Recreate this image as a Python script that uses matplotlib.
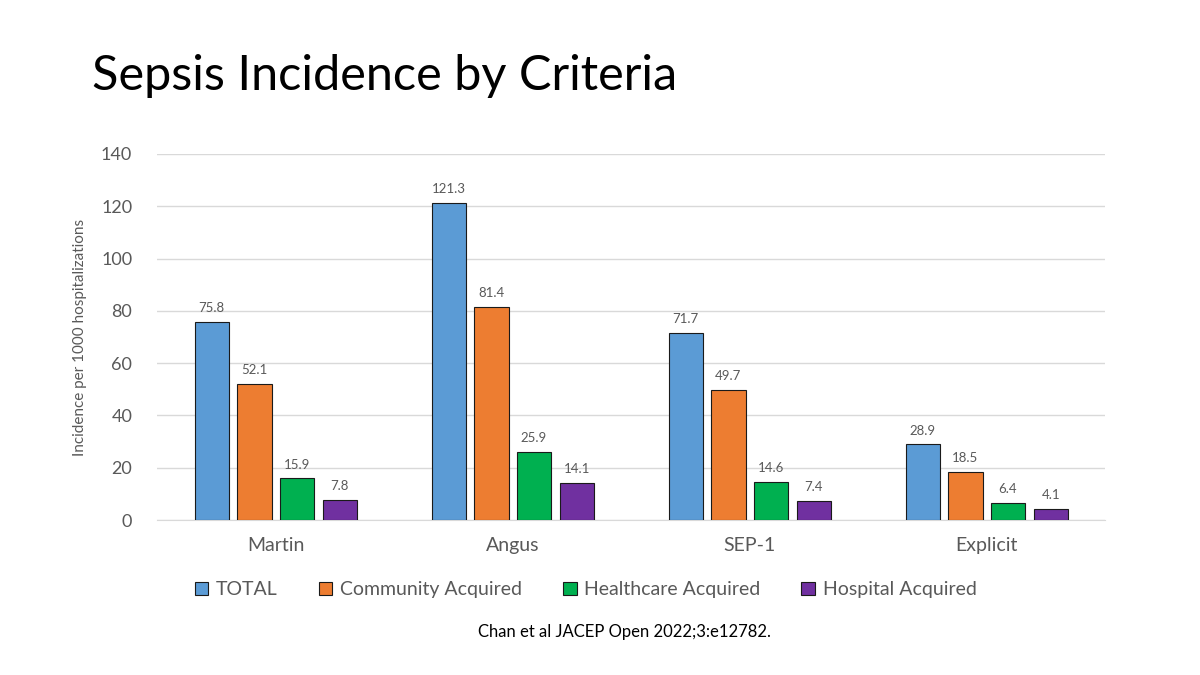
import matplotlib.pyplot as plt
import numpy as np

plt.rcParams['font.family'] = ['Lato', 'DejaVu Sans']

criteria = ['Martin', 'Angus', 'SEP-1', 'Explicit']
series = ['TOTAL', 'Community Acquired', 'Healthcare Acquired', 'Hospital Acquired']
total = [75.8, 121.3, 71.7, 28.9]
community = [52.1, 81.4, 49.7, 18.5]
healthcare = [15.9, 25.9, 14.6, 6.4]
hospital = [7.8, 14.1, 7.4, 4.1]
colors = ['#5B9BD5', '#ED7D31', '#00B050', '#7030A0']

grey = '#595959'
fig = plt.figure(figsize=(12, 6.75), dpi=100)
ax = fig.add_axes([0.131, 0.2296, 0.79, 0.5423])

x = np.arange(len(criteria))
width = 0.145
step = 0.18
for i, (name, vals) in enumerate(zip(series, [total, community, healthcare, hospital])):
    pos = x + (i - 1.5) * step
    bars = ax.bar(pos, vals, width, color=colors[i], edgecolor='#1a1a1a', linewidth=0.8, label=name, zorder=3)
    for b, v in zip(bars, vals):
        ax.text(b.get_x() + b.get_width() / 2, v + 3, f'{v:.1f}', ha='center', va='bottom', fontsize=9.5, color=grey)

ax.set_xlim(-0.5, 3.5)
ax.set_ylim(0, 140)
ax.set_yticks(range(0, 141, 20))
ax.grid(axis='y', color='#d9d9d9', linewidth=1, zorder=0)
for s in ['top', 'right', 'left']:
    ax.spines[s].set_visible(False)
ax.spines['bottom'].set_color('#d9d9d9')
ax.tick_params(axis='both', length=0, colors=grey, labelsize=13)
ax.tick_params(axis='y', pad=18)
ax.set_xticks(x)
ax.set_xticklabels(criteria, fontsize=14)
ax.tick_params(axis='x', pad=12)
ax.set_ylabel('Incidence per 1000 hospitalizations', fontsize=11, color=grey, labelpad=10)

ax.legend(loc='upper center', bbox_to_anchor=(0.452, -0.12), ncol=4, frameon=False,
          fontsize=14, labelcolor=grey, handlelength=0.7, handleheight=0.7,
          handletextpad=0.4, columnspacing=2.1)

fig.text(0.077, 0.888, 'Sepsis Incidence by Criteria', fontsize=35,
         va='center', ha='left', color='black')
fig.text(0.52, 0.064, 'Chan et al JACEP Open 2022;3:e12782.', fontsize=12, ha='center', va='center', color='black')

fig.savefig('out.png', dpi=100)
